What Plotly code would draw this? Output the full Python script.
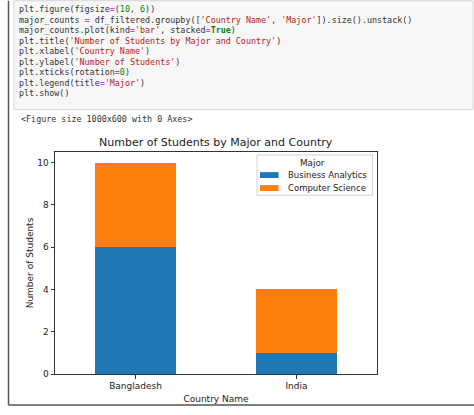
import plotly.graph_objects as go

countries = ["Bangladesh", "India"]
business_analytics = [6, 1]
computer_science = [4, 3]
y_ticks = [0, 2, 4, 6, 8, 10]
series_names = ["Business Analytics", "Computer Science"]
series_colors = ["#1f77b4", "#ff7f0e"]

W, H = 474, 415
PL, PR, PT, PB = 55, 377, 152, 378

def px(x):
    return (x - PL) / (PR - PL)

def py(y):
    return (PB - y) / (PB - PT)

TXT = "#333333"
OP = "#AA22FF"
NUM = "#008800"
STR = "#BA2121"

def c(t, col):
    return f'<span style="color:{col}">{t}</span>'

code_lines = [
    "plt.figure(figsize" + c("=", OP) + "(" + c("10", NUM) + ", " + c("6", NUM) + "))",
    "major_counts " + c("=", OP) + " df_filtered.groupby([" + c("'Country Name'", STR) + ", " + c("'Major'", STR) + "]).size().unstack()",
    "major_counts.plot(kind" + c("=", OP) + c("'bar'", STR) + ", stacked" + c("=", OP) + c("<b>True</b>", NUM) + ")",
    "plt.title(" + c("'Number of Students by Major and Country'", STR) + ")",
    "plt.xlabel(" + c("'Country Name'", STR) + ")",
    "plt.ylabel(" + c("'Number of Students'", STR) + ")",
    "plt.xticks(rotation" + c("=", OP) + c("0", NUM) + ")",
    "plt.legend(title" + c("=", OP) + c("'Major'", STR) + ")",
    "plt.show()",
]
line_y = [6.7, 17.7, 28.2, 38.8, 49.4, 60.2, 70.9, 81.6, 92.3]

fig = go.Figure()
for vals, name, col in zip([business_analytics, computer_science], series_names, series_colors):
    fig.add_trace(go.Bar(x=countries, y=vals, name=name,
                         marker=dict(color=col, line=dict(width=0)), width=0.5))

FONT = "DejaVu Sans"
annotations = []
for t, yy in zip(code_lines, line_y):
    annotations.append(dict(text=t, x=px(17.3), y=py(yy), xref="paper", yref="paper",
                            xanchor="left", yanchor="middle", showarrow=False,
                            font=dict(family="DejaVu Sans Mono", size=8.4, color=TXT)))
annotations.append(dict(text="&lt;Figure size 1000x600 with 0 Axes&gt;", x=px(19), y=py(118.7),
                        xref="paper", yref="paper", xanchor="left", yanchor="middle",
                        showarrow=False,
                        font=dict(family="DejaVu Sans Mono", size=8.4, color=TXT)))
annotations.append(dict(text="Number of Students by Major and Country", x=0.5, y=py(142.7),
                        xref="paper", yref="paper", xanchor="center", yanchor="middle",
                        showarrow=False, font=dict(family=FONT, size=11, color="#222")))

shapes = [
    dict(type="rect", xref="paper", yref="paper", x0=px(14), x1=px(473), y0=py(-2), y1=py(109),
         fillcolor="#f7f7f7", line=dict(color="#d6d6d6", width=1), layer="below"),
    dict(type="line", xref="paper", yref="paper", x0=px(8.5), x1=px(8.5), y0=py(-2), y1=py(409.5),
         line=dict(color="#555555", width=1.5)),
    dict(type="line", xref="paper", yref="paper", x0=px(8.5), x1=px(476), y0=py(409.5), y1=py(409.5),
         line=dict(color="#555555", width=1.5)),
]

# legend drawn as a framed box (matplotlib style)
shapes.append(dict(type="rect", xref="paper", yref="paper", x0=px(257), x1=px(372.5),
                   y0=py(196), y1=py(155), fillcolor="rgba(255,255,255,0.9)",
                   line=dict(color="#d0d0d0", width=1)))
annotations.append(dict(text="Major", x=px(312), y=py(162.7), xref="paper", yref="paper",
                        xanchor="center", yanchor="middle", showarrow=False,
                        font=dict(family=FONT, size=8.8, color="#222")))
for i, (name, col) in enumerate(zip(series_names, series_colors)):
    yc = 175.5 + 13.2 * i
    shapes.append(dict(type="rect", xref="paper", yref="paper", x0=px(260), x1=px(278.5),
                       y0=py(yc + 3), y1=py(yc - 3), fillcolor=col, line=dict(width=0)))
    annotations.append(dict(text=name, x=px(285.5), y=py(yc), xref="paper", yref="paper",
                            xanchor="left", yanchor="middle", showarrow=False,
                            font=dict(family=FONT, size=8.5, color="#222")))

axis_common = dict(showline=True, mirror=True, linecolor="#333333", linewidth=1,
                   ticks="outside", ticklen=3.5, tickcolor="#333333", showgrid=False,
                   zeroline=False, tickfont=dict(family=FONT, size=9, color="#222"))

fig.update_layout(
    width=W, height=H,
    margin=dict(l=PL, r=W - PR, t=PT, b=H - PB, pad=0),
    paper_bgcolor="white", plot_bgcolor="white",
    barmode="stack", bargap=0,
    showlegend=False,
    xaxis=dict(range=[-0.5, 1.5], title=dict(text="Country Name", standoff=5,
               font=dict(family=FONT, size=9, color="#222")), **axis_common),
    yaxis=dict(range=[0, 10.5], tickvals=y_ticks, title=dict(text="Number of Students", standoff=2,
               font=dict(family=FONT, size=9, color="#222")), **axis_common),
    annotations=annotations,
    shapes=shapes,
)

fig.write_html("out.html")
